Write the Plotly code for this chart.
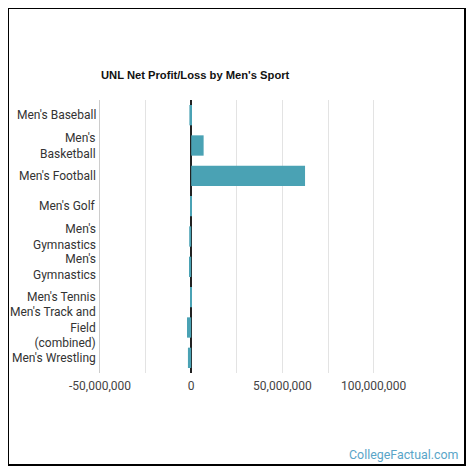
import plotly.graph_objects as go

categories = ["Men's Baseball", "Men's<br>Basketball", "Men's Football", "Men's Golf",
              "Men's<br>Gymnastics", "Men's<br>Gymnastics", "Men's Tennis",
              "Men's Track and<br>Field<br>(combined)", "Men's Wrestling"]
values = [-1.0e6, 6.8e6, 62.4e6, -0.5e6, -1.1e6, -1.2e6, -0.6e6, -2.3e6, -1.8e6]
x_tick_vals = [-50e6, -25e6, 0, 25e6, 50e6, 75e6, 100e6]
x_tick_text = ["-50,000,000", "", "0", "", "50,000,000", "", "100,000,000"]

positions = list(range(len(categories)))

OFF = 8  # page body margin
W = H = 476 - 2 * OFF
L, R, T, B = 100 - OFF, 401 - OFF, 100 - OFF, 373 - OFF

fig = go.Figure(go.Bar(
    y=positions, x=values, orientation="h",
    marker=dict(color="#4aa2b4", line=dict(width=0)),
    width=0.67,
))

def px_x(p):
    return (p - OFF - L) / (R - L)

def px_y(p):
    return (B - (p - OFF)) / (B - T)

label_annotations = [
    dict(text=c, xref="paper", yref="y", x=px_x(98), y=p, xanchor="right", yanchor="middle",
         align="right", showarrow=False, font=dict(family="Roboto", size=12, color="#333"))
    for c, p in zip(categories, positions)
]

fig.update_layout(
    width=W, height=H,
    margin=dict(l=L, r=W - R, t=T, b=H - B, pad=0),
    paper_bgcolor="white", plot_bgcolor="white",
    showlegend=False,
    font=dict(family="Roboto", size=12, color="#333"),
    xaxis=dict(range=[-50e6, 115e6], tickvals=x_tick_vals, ticktext=x_tick_text,
               showgrid=True, gridcolor="#e3e3e3", gridwidth=1,
               zeroline=True, zerolinecolor="#222", zerolinewidth=1.5,
               showline=False, ticks="", ticklabelstandoff=4,
               tickfont=dict(size=12, color="#444")),
    yaxis=dict(range=[len(categories) - 0.5, -0.5], tickvals=positions,
               showticklabels=False,
               showgrid=False, zeroline=False, showline=True, linecolor="#ccc", linewidth=1,
               ticks=""),
    shapes=[dict(type="rect", xref="paper", yref="paper",
                 x0=px_x(8), x1=px_x(465), y0=px_y(465), y1=px_y(8),
                 line=dict(color="black", width=2), fillcolor="rgba(0,0,0,0)")],
    annotations=[
        dict(text="<b>UNL Net Profit/Loss by Men's Sport</b>", xref="paper", yref="paper",
             x=px_x(99), y=px_y(75), xanchor="left", yanchor="middle", showarrow=False,
             font=dict(family="Liberation Sans, Arial", size=11.2, color="#111")),
        dict(text="CollegeFactual.com", xref="paper", yref="paper",
             x=px_x(461), y=px_y(454), xanchor="right", yanchor="middle", showarrow=False,
             font=dict(family="Roboto", size=12.4, color="#5aa5c8")),
    ] + label_annotations,
)

fig.write_html("out.html")
